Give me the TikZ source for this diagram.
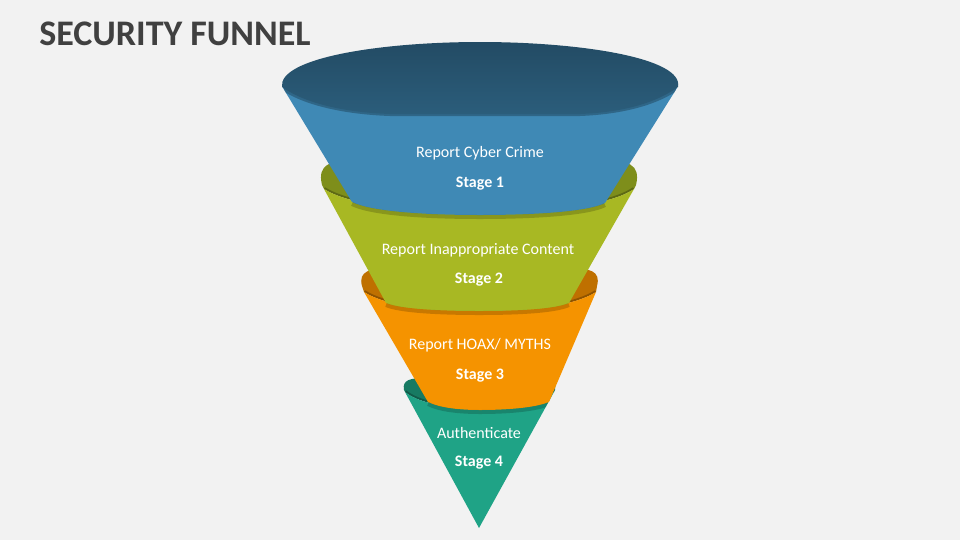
\documentclass[tikz,border=0pt]{standalone}
\usepackage{fontspec}
\setmainfont{Carlito}
\definecolor{bg}{HTML}{F2F2F2}
\definecolor{titlec}{HTML}{404040}
\definecolor{blueTop}{HTML}{2B5D7B}
\definecolor{blueTopD}{HTML}{234B64}
\definecolor{blueBody}{HTML}{3F89B5}
\definecolor{greenRim}{HTML}{7E8E1B}
\definecolor{greenBody}{HTML}{A8B823}
\definecolor{orangeRim}{HTML}{BF7000}
\definecolor{orangeBody}{HTML}{F59300}
\definecolor{tealRim}{HTML}{177A62}
\definecolor{tealBody}{HTML}{1FA386}
\tikzset{
  label/.style={text=white, font=\fontsize{12}{14}\selectfont, inner sep=0pt, anchor=base},
  stagelbl/.style={text=white, font=\fontsize{12}{14}\selectfont\bfseries, inner sep=0pt, anchor=base},
  shadowline/.style={draw=black, draw opacity=0.25, line width=3pt},
  castshadow/.style={draw=black, draw opacity=0.18, line width=3pt},
}
% body top edges (left to right) and bottom edges (left to right)
\def\tealTop{(405,392) .. controls (418,402) and (438,407) .. (479,408) .. controls (520,407) and (540,402) .. (554,392)}
\def\orangeTop{(364,292) .. controls (385,305) and (420,310) .. (480,311) .. controls (540,310) and (575,305) .. (596,292)}
\def\orangeBot{(428,402) .. controls (440,408) and (460,410) .. (480,410) .. controls (505,410) and (535,408) .. (549,402)}
\def\greenTop{(324,189) .. controls (350,205) and (400,210) .. (479,212) .. controls (560,210) and (610,205) .. (634,189)}
\def\greenBot{(386,303) .. controls (400,309) and (440,311) .. (479,311) .. controls (520,311) and (555,309) .. (569,303)}
\def\blueBot{(352,202) .. controls (370,211) and (420,215) .. (480,215) .. controls (540,215) and (590,211) .. (605,203)}
\begin{document}
\begin{tikzpicture}[x=0.75pt,y=-0.75pt]
\useasboundingbox (0,0) rectangle (960,540);
\fill[bg] (0,0) rectangle (960,540);
\node[anchor=base west, text=titlec, font=\fontsize{27}{31}\selectfont\bfseries, inner sep=0pt] (title) at (39,45) {SECURITY FUNNEL};

% ---------- stage 4 (teal)
\fill[tealRim] (405,392) -- (404,390) .. controls (402,380) and (410,378) .. (425,378)
  -- (534,378) .. controls (549,378) and (557,380) .. (555,390) -- (554,392)
  .. controls (540,402) and (520,407) .. (479,408)
  .. controls (438,407) and (418,402) .. (405,392) -- cycle;
\begin{scope}
  \clip (404,390) .. controls (402,380) and (410,378) .. (425,378)
  -- (534,378) .. controls (549,378) and (557,380) .. (555,390) -- (554,392)
  .. controls (540,402) and (520,407) .. (479,408)
  .. controls (438,407) and (418,402) .. (405,392) -- cycle;
  \path[shadowline] \tealTop;
\end{scope}
\fill[tealBody] (405,392) -- (479,528) -- (554,392)
  .. controls (540,402) and (520,407) .. (479,408)
  .. controls (438,407) and (418,402) .. (405,392) -- cycle;

% ---------- stage 3 (orange)
\begin{scope}
  \clip (364,292) -- (362,286) .. controls (358,271) and (370,268) .. (392,268)
    -- (568,268) .. controls (590,268) and (601,271) .. (597,286) -- (596,292)
    .. controls (575,305) and (540,310) .. (480,311)
    .. controls (420,310) and (385,305) .. (364,292) -- cycle;
  \fill[orangeRim] (300,250) rectangle (660,320);
  \path[shadowline] \orangeTop;
\end{scope}
\fill[orangeBody] (364,292) -- (428,402)
  .. controls (440,408) and (460,410) .. (480,410)
  .. controls (505,410) and (535,408) .. (549,402) -- (596,292)
  .. controls (575,305) and (540,310) .. (480,311)
  .. controls (420,310) and (385,305) .. (364,292) -- cycle;
\begin{scope}
  \clip (405,392) -- (479,528) -- (554,392) -- (554,380) -- (405,380) -- cycle;
  \path[castshadow] ([yshift=-1.5pt]428,402) .. controls ([yshift=-1.5pt]440,408) and ([yshift=-1.5pt]460,410) .. ([yshift=-1.5pt]480,410) .. controls ([yshift=-1.5pt]505,410) and ([yshift=-1.5pt]535,408) .. ([yshift=-1.5pt]549,402);
\end{scope}

% ---------- stage 2 (green)
\begin{scope}
  \clip (324,189) -- (322,185) .. controls (317,164) and (330,160) .. (360,160)
    -- (600,160) .. controls (628,160) and (641,164) .. (636,185) -- (634,189)
    .. controls (610,205) and (560,210) .. (479,212)
    .. controls (400,210) and (350,205) .. (324,189) -- cycle;
  \fill[greenRim] (300,150) rectangle (660,220);
  \path[shadowline] \greenTop;
\end{scope}
\fill[greenBody] (324,189) -- (386,303)
  .. controls (400,309) and (440,311) .. (479,311)
  .. controls (520,311) and (555,309) .. (569,303) -- (634,189)
  .. controls (610,205) and (560,210) .. (479,212)
  .. controls (400,210) and (350,205) .. (324,189) -- cycle;
\begin{scope}
  \clip (364,292) -- (428,402) -- (549,402) -- (596,292) -- cycle;
  \path[castshadow] ([yshift=-1.5pt]386,303) .. controls ([yshift=-1.5pt]400,309) and ([yshift=-1.5pt]440,311) .. ([yshift=-1.5pt]479,311) .. controls ([yshift=-1.5pt]520,311) and ([yshift=-1.5pt]555,309) .. ([yshift=-1.5pt]569,303);
\end{scope}

% ---------- stage 1 (blue)
\fill[blueBody] (283,88) -- (352,202)
  .. controls (370,211) and (420,215) .. (480,215)
  .. controls (540,215) and (590,211) .. (605,203) -- (677,88) -- cycle;
\begin{scope}
  \clip (324,189) -- (386,303) -- (569,303) -- (634,189) -- cycle;
  \path[castshadow] ([yshift=-1.5pt]352,202) .. controls ([yshift=-1.5pt]370,211) and ([yshift=-1.5pt]420,215) .. ([yshift=-1.5pt]480,215) .. controls ([yshift=-1.5pt]540,215) and ([yshift=-1.5pt]590,211) .. ([yshift=-1.5pt]605,203);
\end{scope}
\begin{scope}
  \clip (283,88) -- (352,202) -- (605,203) -- (677,88) -- cycle;
  \path[shadowline] (284,89) .. controls (300,100) and (335,112) .. (390,114)
    -- (580,114) .. controls (630,112) and (660,100) .. (676,89);
\end{scope}
\shade[top color=blueTopD, bottom color=blueTop]
  (282,87) .. controls (278,58) and (380,42) .. (480,42)
  .. controls (580,42) and (684,58) .. (678,87)
  .. controls (660,100) and (630,112) .. (580,114)
  -- (390,114) .. controls (335,112) and (300,100) .. (282,87) -- cycle;

% ---------- labels
\node[label] (t1) at (480,157) {Report Cyber Crime};
\node[stagelbl] (s1) at (480,187) {Stage 1};
\node[label] (t2) at (478,254) {Report Inappropriate Content};
\node[stagelbl] (s2) at (479,283) {Stage 2};
\node[label] (t3) at (480,349) {Report HOAX/ MYTHS};
\node[stagelbl] (s3) at (480,379) {Stage 3};
\node[label] (t4) at (479,438) {Authenticate};
\node[stagelbl] (s4) at (479,466) {Stage 4};
\end{tikzpicture}
\end{document}
